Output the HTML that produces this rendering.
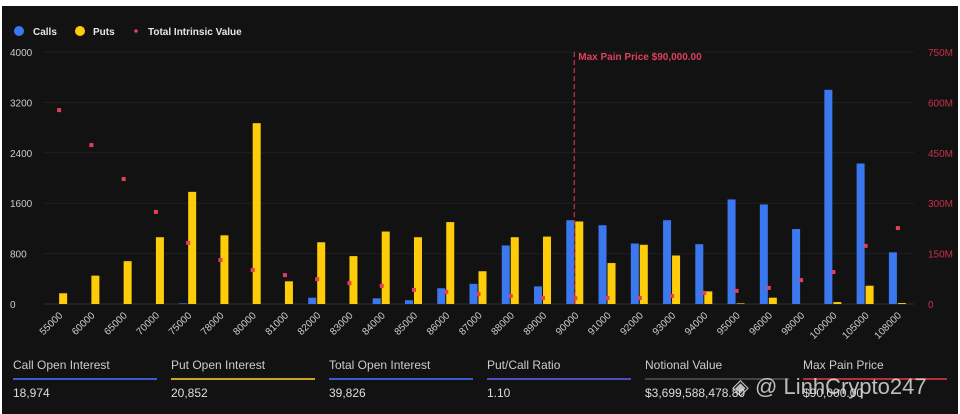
<!DOCTYPE html>
<html><head><meta charset="utf-8"><style>
html,body{margin:0;padding:0;background:#fff;}
#wrap{position:absolute;left:2px;top:6px;width:956px;height:408px;background:#121212;font-family:"Liberation Sans",sans-serif;overflow:hidden;}
svg{position:absolute;left:0;top:0;}
.stat{position:absolute;top:352px;width:144px;color:#ccc;font-size:12px;}
.stat .lbl{height:16px}
.stat .bar{height:2px;margin-top:4px;}
.stat .val{margin-top:6px;color:#ddd;font-size:12px;}
</style></head><body>
<div id="wrap">
<svg id="chart" width="956" height="340"></svg>
<div class="stat" style="left:11px"><div class="lbl">Call Open Interest</div><div class="bar" style="background:#3a5bd0"></div><div class="val">18,974</div></div>
<div class="stat" style="left:169px"><div class="lbl">Put Open Interest</div><div class="bar" style="background:#c9a520"></div><div class="val">20,852</div></div>
<div class="stat" style="left:327px"><div class="lbl">Total Open Interest</div><div class="bar" style="background:#3a5bd0"></div><div class="val">39,826</div></div>
<div class="stat" style="left:485px"><div class="lbl">Put/Call Ratio</div><div class="bar" style="background:#4a4fc0"></div><div class="val">1.10</div></div>
<div class="stat" style="left:643px"><div class="lbl">Notional Value</div><div class="bar" style="background:#444"></div><div class="val">$3,699,588,478.80</div></div>
<div class="stat" style="left:801px"><div class="lbl">Max Pain Price</div><div class="bar" style="background:#b0303c"></div><div class="val">$90,000.00</div></div>
<div style="position:absolute;left:730px;top:368px;color:rgba(220,220,220,0.85);font-size:22px;">◈ @ LinhCrypto247</div>
</div>
<script>
const categories=["55000","60000","65000","70000","75000","78000","80000","81000","82000","83000","84000","85000","86000","87000","88000","89000","90000","91000","92000","93000","94000","95000","96000","98000","100000","105000","108000"];
const calls=[0,0,0,0,10,0,0,0,100,0,90,60,250,320,930,280,1330,1250,960,1330,950,1660,1580,1190,3400,2230,820];
const puts=[170,450,680,1060,1780,1090,2870,360,980,760,1150,1060,1300,520,1060,1070,1310,650,940,770,200,10,100,0,30,290,15];
const intrinsic=[577,473,372,274,182,131,101,86,74,62,54,42,36,30,24,18,17,18,18,24,33,39,48,71,95,173,226];
const leftTicks=[0,800,1600,2400,3200,4000];
const rightTicks=[0,150,300,450,600,750];
const rightTickLabels=["0","150M","300M","450M","600M","750M"];
const maxPain="90000";
const NS="http://www.w3.org/2000/svg";
const svg=document.getElementById('chart');
const X0=41,X1=912,Y0=298,Y1=46;
const bw=(X1-X0)/categories.length;
const xc=i=>X0+bw*(i+0.5);
const yL=v=>Y0-(v/4000)*(Y0-Y1);
const yR=v=>Y0-(v/750)*(Y0-Y1);
function el(t,a,txt){const e=document.createElementNS(NS,t);for(const k in a)e.setAttribute(k,a[k]);if(txt!==undefined)e.textContent=txt;svg.appendChild(e);return e;}
leftTicks.forEach(v=>{
 const g=el('line',{x1:X0,x2:X1,y1:yL(v),y2:yL(v),stroke:v===0?'#2e2e2e':'#1f1f1f','stroke-width':1});
 
 
 const t=el('text',{x:8,y:yL(v)+4,fill:'#ccc','font-size':10},String(v));
 
 
});
rightTicks.forEach((v,i)=>{
 const t=el('text',{x:926,y:yR(v)+4,fill:'#c8324a','font-size':10},rightTickLabels[i]);
 
 
});
categories.forEach((c,i)=>{
 const cx=xc(i);
 if(calls[i]>0){const r=el('rect',{x:cx-9,y:yL(calls[i]),width:8,height:Y0-yL(calls[i]),fill:'#3b78f0'});
 
 }
 if(puts[i]>0){const r=el('rect',{x:cx,y:yL(puts[i]),width:8,height:Y0-yL(puts[i]),fill:'#ffcc0a'});
 
 }
 const t=el('text',{x:cx+4,y:Y0+12,fill:'#ccc','font-size':10,'text-anchor':'end',transform:`rotate(-45 ${cx+4} ${Y0+12})`},c);
 
 
});
categories.forEach((c,i)=>{
 const d=el('rect',{x:xc(i)-2,y:yR(intrinsic[i])-2,width:4,height:4,fill:'#e0405a'});
 
 
});
const mi=categories.indexOf(maxPain);
const mx=xc(mi)-1;
const ml=el('line',{x1:mx,x2:mx,y1:Y1,y2:Y0,stroke:'#c8324a','stroke-width':1.2,'stroke-dasharray':'5,3'});


const mt=el('text',{x:mx+4,y:Y1+8,fill:'#e0405a','font-size':10,'font-weight':'bold'},'Max Pain Price $90,000.00');


// legend
const lg=[['circle',{cx:17,cy:25,r:5,fill:'#3b78f0'}],['circle',{cx:78,cy:25,r:5,fill:'#ffcc0a'}],['circle',{cx:134,cy:25,r:1.8,fill:'#e0405a'}]];
lg.forEach(([t,a])=>{const e=el(t,a);});
[['Calls',31],['Puts',91],['Total Intrinsic Value',146]].forEach(([s,x])=>{
 const t=el('text',{x:x,y:29,fill:'#e6e6e6','font-size':10,'font-weight':'bold'},s);
 
 
});
</script>
</body></html>
